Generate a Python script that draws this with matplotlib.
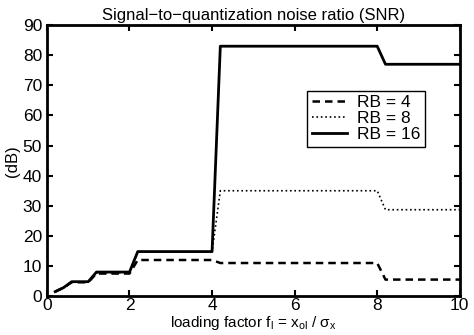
import matplotlib
matplotlib.use("Agg")
import matplotlib.pyplot as plt

plt.rcParams['font.family'] = ['Liberation Sans', 'DejaVu Sans']

# loading factor breakpoints
x = [0.2, 0.4, 0.6, 1.0, 1.2, 2.0, 2.2, 4.0, 4.2, 8.0, 8.2, 10.0]

snr_rb4 = [1.5, 2.8, 4.6, 4.6, 7.5, 7.5, 12.0, 12.0, 11.0, 11.0, 5.5, 5.5]
snr_rb8 = [1.5, 2.8, 4.7, 4.7, 7.8, 7.8, 14.7, 14.7, 35.0, 35.0, 28.7, 28.7]
snr_rb16 = [1.5, 2.8, 4.8, 4.8, 8.0, 8.0, 14.8, 14.8, 83.0, 83.0, 77.0, 77.0]

fig = plt.figure(figsize=(4.74, 3.35), dpi=100)
ax = fig.add_axes([0.099, 0.116, 0.871, 0.809])

ax.plot(x, snr_rb4, 'k', ls=(0, (3, 2)), lw=1.8, label='RB = 4')
ax.plot(x, snr_rb8, 'k:', lw=1.2, label='RB = 8')
ax.plot(x, snr_rb16, 'k-', lw=2.0, label='RB = 16')

ax.set_xlim(0, 10)
ax.set_ylim(0, 90)
ax.set_xticks([0, 2, 4, 6, 8, 10])
ax.set_yticks(range(0, 91, 10))
ax.tick_params(direction='in', top=True, right=True, labelsize=12.5, width=1.5, length=4)
ax.tick_params(axis='x', pad=1.5)
for s in ax.spines.values():
    s.set_linewidth(2)

ax.set_title('Signal\u2212to\u2212quantization noise ratio (SNR)', fontsize=12, pad=4)
ax.set_ylabel('(dB)', fontsize=12, labelpad=2)
ax.set_xlabel(r'loading factor f$_\mathregular{l}$ = x$_\mathregular{ol}$ / σ$_\mathregular{x}$',
              fontsize=11, labelpad=0.5)

leg = ax.legend(loc='upper left', bbox_to_anchor=(0.61, 0.79), fontsize=12.5,
                fancybox=False, edgecolor='black', framealpha=1,
                handlelength=2.0, handletextpad=0.6, borderpad=0.25, labelspacing=0.05)
leg.get_frame().set_linewidth(1.0)

fig.savefig('out.png', dpi=100)
plt.close(fig)
